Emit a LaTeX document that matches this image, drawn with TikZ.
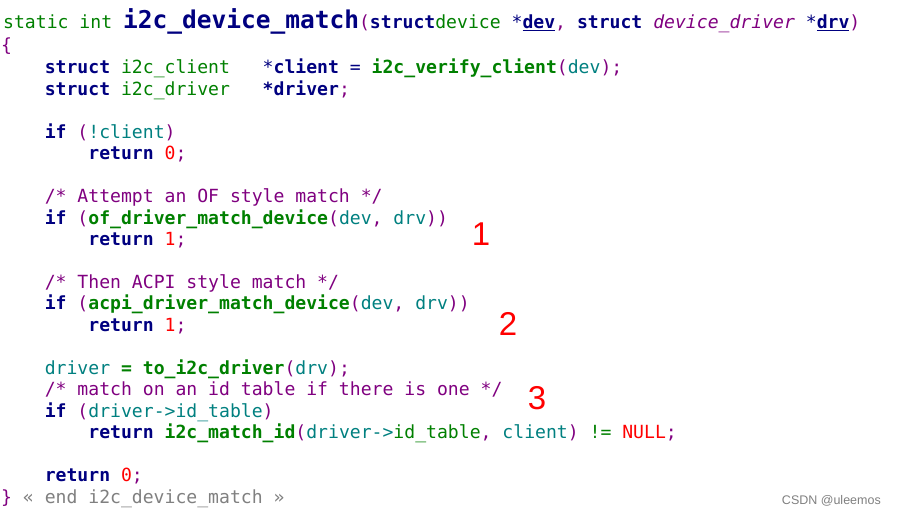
\documentclass[tikz,border=0pt]{standalone}
\usepackage{fontspec}
\setmonofont{DejaVu Sans Mono}
\newfontfamily\annfont{Liberation Sans}
\definecolor{kwc}{HTML}{000080}
\definecolor{fnc}{HTML}{008000}
\definecolor{vrc}{HTML}{008080}
\definecolor{pnc}{HTML}{800080}
\definecolor{nmc}{HTML}{FF0000}
\definecolor{gyc}{HTML}{808080}
\newcommand\K[1]{\textcolor{kwc}{\bfseries #1}}
\newcommand\N[1]{\textcolor{kwc}{#1}}
\newcommand\F[1]{\textcolor{fnc}{#1}}
\newcommand\FB[1]{\textcolor{fnc}{\bfseries #1}}
\newcommand\V[1]{\textcolor{vrc}{#1}}
\newcommand\PP[1]{\textcolor{pnc}{#1}}
\newcommand\R[1]{\textcolor{nmc}{#1}}
\begin{document}
\begin{tikzpicture}[x=1pt,y=-1pt,
  code/.style={anchor=base west,inner sep=0pt,font=\ttfamily\fontsize{18.1}{20}\selectfont},
  ann/.style={anchor=base,inner sep=0pt,text=nmc,font=\annfont\fontsize{33}{36}\selectfont}]
\useasboundingbox[fill=white] (0,0) rectangle (897,519);
\def\L#1{74+#1*21.45-3*21.45}
\node[code] (l1) at (3,29) {\F{static int }{\fontsize{24.5}{26}\selectfont\K{i2c\_device\_match}}\PP{(}\K{struct}\F{ device} \N{*}\K{\underline{dev}}\PP{,} \K{struct} \PP{\itshape device\_driver} \N{*}\K{\underline{drv}}\PP{)}};
\node[code] (l2) at (1,52) {\PP{\{}};
\node[code] (l3) at (1,{\L{3}}) {~~~~\K{struct} \F{i2c\_client}~~~\N{*}\K{client} \N{=} \FB{i2c\_verify\_client}\PP{(}\V{dev}\PP{);}};
\node[code] (l4) at (1,{\L{4}}) {~~~~\K{struct} \F{i2c\_driver}~~~\K{*driver}\PP{;}};
\node[code] (l6) at (1,{\L{6}}) {~~~~\K{if} \PP{(}\V{!client}\PP{)}};
\node[code] (l7) at (1,{\L{7}}) {~~~~~~~~\K{return} \R{0}\PP{;}};
\node[code] (l9) at (1,{\L{9}}) {~~~~\PP{/* Attempt an OF style match */}};
\node[code] (l10) at (1,{\L{10}}) {~~~~\K{if} \PP{(}\FB{of\_driver\_match\_device}\PP{(}\V{dev}\PP{,} \V{drv}\PP{))}};
\node[code] (l11) at (1,{\L{11}}) {~~~~~~~~\K{return} \R{1}\PP{;}};
\node[code] (l13) at (1,{\L{13}}) {~~~~\PP{/* Then ACPI style match */}};
\node[code] (l14) at (1,{\L{14}}) {~~~~\K{if} \PP{(}\FB{acpi\_driver\_match\_device}\PP{(}\V{dev}\PP{,} \V{drv}\PP{))}};
\node[code] (l15) at (1,{\L{15}}) {~~~~~~~~\K{return} \R{1}\PP{;}};
\node[code] (l17) at (1,{\L{17}}) {~~~~\V{driver} \FB{=} \FB{to\_i2c\_driver}\PP{(}\V{drv}\PP{);}};
\node[code] (l18) at (1,{\L{18}}) {~~~~\PP{/* match on an id table if there is one */}};
\node[code] (l19) at (1,{\L{19}}) {~~~~\K{if} \PP{(}\V{driver->id\_table}\PP{)}};
\node[code] (l20) at (1,{\L{20}}) {~~~~~~~~\K{return} \FB{i2c\_match\_id}\PP{(}\V{driver->}\F{id\_table}\PP{,} \V{client}\PP{)} \F{!=} \R{NULL}\PP{;}};
\node[code] (l22) at (1,{\L{22}}) {~~~~\K{return} \R{0}\PP{;}};
\node[code] (l23) at (1,{\L{23}}) {\PP{\}} \textcolor{gyc}{« end i2c\_device\_match »}};
\node[ann] (a1) at (481,245) {1};
\node[ann] (a2) at (508,335) {2};
\node[ann] (a3) at (537,409) {3};
\node[anchor=base east,inner sep=0pt,text=gyc,font=\annfont\fontsize{12.5}{14}\selectfont] (wm) at (881,504) {CSDN @uleemos};
\end{tikzpicture}
\end{document}
